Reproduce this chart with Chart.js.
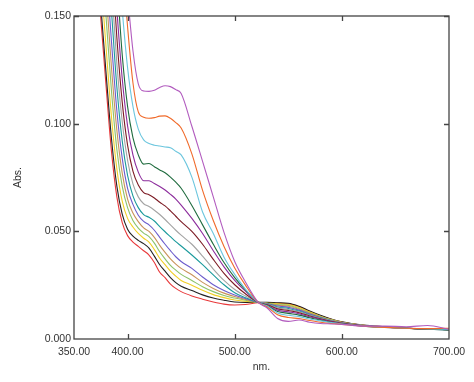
<!DOCTYPE html>
<html><head><meta charset="utf-8">
<script src="https://cdn.jsdelivr.net/npm/chart.js@4.4.1/dist/chart.umd.min.js"></script>
<style>html,body{margin:0;padding:0;background:#fff;}canvas{display:block;}</style>
</head><body>
<canvas id="c" width="474" height="382"></canvas>
<script>
const wavelengths = [370,375,380,385,390,395,400,405,410,415,420,425,430,435,440,445,450,460,470,480,490,500,510,522,530,540,550,560,570,580,590,600,620,640,660,680,700];

const magenta = [0.35,0.32,0.29,0.26,0.225,0.19,0.160,0.134,0.1185,0.1152,0.1150,0.1155,0.1168,0.1176,0.1172,0.1158,0.1140,0.0988,0.0825,0.0660,0.0495,0.0360,0.0265,0.0170,0.0145,0.0095,0.0082,0.0088,0.0078,0.0072,0.0070,0.0068,0.0060,0.0060,0.0057,0.0063,0.0045];
const orange = [0.33,0.30,0.27,0.24,0.207,0.176,0.145,0.119,0.1055,0.1030,0.1025,0.1028,0.1035,0.1036,0.1025,0.1005,0.0980,0.0860,0.0690,0.0550,0.0430,0.0330,0.0250,0.0170,0.0150,0.0113,0.0100,0.0095,0.0086,0.0078,0.0072,0.0068,0.0060,0.0054,0.0050,0.0048,0.0050];
const skyblue = [0.31,0.28,0.25,0.22,0.186,0.153,0.126,0.108,0.0975,0.0925,0.0908,0.0900,0.0896,0.0892,0.0888,0.0872,0.0855,0.0752,0.0590,0.0490,0.0380,0.0300,0.0232,0.0170,0.0154,0.0121,0.0110,0.0104,0.0093,0.0084,0.0076,0.0070,0.0060,0.0054,0.0050,0.0047,0.0045];
const green = [0.296,0.266,0.236,0.205,0.168,0.132,0.108,0.0935,0.0855,0.0812,0.0815,0.0800,0.0785,0.0772,0.0752,0.0728,0.0700,0.0620,0.0530,0.0440,0.0355,0.0285,0.0228,0.0170,0.0156,0.0128,0.0119,0.0111,0.0099,0.0088,0.0078,0.0071,0.0060,0.0055,0.0050,0.0046,0.0043];
const purple = [0.282,0.252,0.222,0.190,0.153,0.121,0.099,0.0855,0.0775,0.0735,0.0735,0.0722,0.0708,0.0692,0.0672,0.0650,0.0622,0.0560,0.0490,0.0410,0.0335,0.0272,0.0222,0.0170,0.0158,0.0134,0.0126,0.0117,0.0103,0.0091,0.0080,0.0072,0.0061,0.0055,0.0050,0.0046,0.0044];
const maroon = [0.270,0.240,0.210,0.178,0.140,0.110,0.090,0.078,0.0715,0.0680,0.0670,0.0655,0.0635,0.0618,0.0595,0.0570,0.0545,0.0500,0.0440,0.0370,0.0305,0.0252,0.0210,0.0170,0.0160,0.0140,0.0132,0.0122,0.0107,0.0094,0.0082,0.0073,0.0061,0.0055,0.0050,0.0046,0.0043];
const gray = [0.258,0.228,0.198,0.165,0.128,0.101,0.083,0.072,0.066,0.0628,0.0615,0.0598,0.0578,0.0555,0.0530,0.0505,0.0482,0.0440,0.0385,0.0325,0.0272,0.0230,0.0200,0.0170,0.0162,0.0145,0.0137,0.0126,0.0110,0.0096,0.0084,0.0074,0.0062,0.0055,0.0050,0.0046,0.0044];
const teal = [0.245,0.215,0.185,0.152,0.117,0.092,0.076,0.0665,0.0610,0.0578,0.0565,0.0548,0.0522,0.0498,0.0475,0.0452,0.0432,0.0390,0.0345,0.0298,0.0252,0.0215,0.0192,0.0170,0.0163,0.0149,0.0142,0.0130,0.0113,0.0098,0.0085,0.0074,0.0062,0.0056,0.0050,0.0045,0.0042];
const violet = [0.232,0.203,0.173,0.138,0.106,0.084,0.070,0.0625,0.0575,0.0546,0.0530,0.0505,0.0472,0.0440,0.0410,0.0382,0.0360,0.0328,0.0288,0.0252,0.0225,0.0204,0.0188,0.0170,0.0164,0.0153,0.0147,0.0134,0.0116,0.0100,0.0086,0.0075,0.0062,0.0055,0.0050,0.0046,0.0043];
const tan = [0.222,0.192,0.161,0.126,0.097,0.077,0.065,0.0585,0.0545,0.0516,0.0500,0.0472,0.0435,0.0402,0.0372,0.0348,0.0328,0.0298,0.0263,0.0235,0.0213,0.0197,0.0184,0.0170,0.0165,0.0157,0.0152,0.0138,0.0119,0.0102,0.0088,0.0076,0.0063,0.0056,0.0050,0.0046,0.0044];
const lightgreen = [0.212,0.181,0.149,0.115,0.088,0.071,0.061,0.055,0.0515,0.0492,0.0475,0.0445,0.0405,0.0372,0.0342,0.0320,0.0300,0.0272,0.0243,0.0220,0.0202,0.0190,0.0180,0.0170,0.0166,0.0160,0.0156,0.0142,0.0122,0.0104,0.0089,0.0077,0.0063,0.0056,0.0050,0.0046,0.0043];
const yellow = [0.200,0.168,0.135,0.103,0.079,0.064,0.056,0.052,0.049,0.0468,0.0450,0.0415,0.0375,0.0345,0.0315,0.0292,0.0272,0.0250,0.0226,0.0206,0.0192,0.0181,0.0175,0.0170,0.0167,0.0163,0.0160,0.0146,0.0125,0.0106,0.0090,0.0078,0.0064,0.0056,0.0050,0.0046,0.0043];
const black = [0.186,0.155,0.123,0.093,0.071,0.058,0.051,0.0478,0.0458,0.0443,0.0422,0.0385,0.0345,0.0315,0.0285,0.0262,0.0245,0.0225,0.0205,0.0190,0.0180,0.0172,0.0170,0.0170,0.0170,0.0168,0.0166,0.0152,0.0130,0.0110,0.0093,0.0080,0.0065,0.0057,0.0050,0.0046,0.0042];
const red = [0.180,0.149,0.117,0.087,0.066,0.054,0.048,0.045,0.043,0.041,0.039,0.0355,0.031,0.0285,0.0255,0.0235,0.022,0.0200,0.0185,0.0172,0.0162,0.0158,0.0160,0.0168,0.0168,0.0166,0.0163,0.0150,0.0128,0.0108,0.0092,0.0079,0.0064,0.0057,0.0051,0.0047,0.0045];

const seriesList = [
  ['magenta', magenta, '#b25cbf'],
  ['orange', orange, '#f06a2a'],
  ['skyblue', skyblue, '#6cc6de'],
  ['green', green, '#1f6b3e'],
  ['purple', purple, '#8c2c9c'],
  ['maroon', maroon, '#7c1b24'],
  ['gray', gray, '#a3a3a3'],
  ['teal', teal, '#1b9a9c'],
  ['violet', violet, '#6c5ccc'],
  ['tan', tan, '#c9935b'],
  ['lightgreen', lightgreen, '#8cc26a'],
  ['yellow', yellow, '#f0cf28'],
  ['black', black, '#222222'],
  ['red', red, '#e8383a']
];

const xTickValues = [350, 400, 500, 600, 700];
const xTickLabels = ['350.00', '400.00', '500.00', '600.00', '700.00'];
const yTickValues = [0, 0.05, 0.10, 0.15];
const yTickLabels = ['0.000', '0.050', '0.100', '0.150'];

Chart.defaults.font.family = '"Liberation Sans", Arial, sans-serif';

const framePlugin = {
  id: 'frame',
  afterDatasetsDraw(chart) {
    const ctx = chart.ctx;
    const {left, right, top, bottom} = chart.chartArea;
    const xs = chart.scales.x, ys = chart.scales.y;
    ctx.save();
    ctx.strokeStyle = '#444';
    ctx.lineWidth = 1.3;
    ctx.strokeRect(left, top, right - left, bottom - top);
    const L = 5;
    ctx.beginPath();
    xTickValues.forEach(v => {
      if (v === 350 || v === 700) return;
      const px = Math.round(xs.getPixelForValue(v)) + 0.5;
      ctx.moveTo(px, bottom); ctx.lineTo(px, bottom - L);
      ctx.moveTo(px, top); ctx.lineTo(px, top + L);
    });
    yTickValues.forEach(v => {
      if (v === 0) return;
      const py = Math.round(ys.getPixelForValue(v)) + 0.5;
      ctx.moveTo(left, py); ctx.lineTo(left + L, py);
      ctx.moveTo(right, py); ctx.lineTo(right - L, py);
    });
    ctx.stroke();
    ctx.restore();
  }
};

new Chart(document.getElementById('c'), {
  type: 'line',
  data: {
    datasets: seriesList.map(([name, vals, col]) => ({
      label: name,
      data: wavelengths.map((w, i) => ({x: w, y: vals[i]})),
      borderColor: col,
      borderWidth: 1.1,
      pointRadius: 0,
      fill: false,
      cubicInterpolationMode: 'monotone'
    }))
  },
  options: {
    responsive: false,
    animation: false,
    devicePixelRatio: 1,
    layout: {padding: {top: 16, right: 25, bottom: 0, left: 0}},
    plugins: {legend: {display: false}, tooltip: {enabled: false}},
    scales: {
      x: {
        type: 'linear', min: 350, max: 700,
        afterBuildTicks: s => { s.ticks = xTickValues.map(v => ({value: v})); },
        afterFit: s => { s.height = 43; },
        grid: {display: false, drawTicks: false},
        border: {display: false},
        ticks: {
          autoSkip: false, maxRotation: 0, padding: 7,
          color: '#333', font: {size: 10.5},
          callback: (v, i) => xTickLabels[i]
        },
        title: {display: true, text: 'nm.', color: '#333', font: {size: 10.5}, padding: {top: 0, bottom: 9}}
      },
      y: {
        min: 0, max: 0.15,
        afterBuildTicks: s => { s.ticks = yTickValues.map(v => ({value: v})); },
        afterFit: s => { s.width = 74; },
        grid: {display: false, drawTicks: false},
        border: {display: false},
        ticks: {
          padding: 3, color: '#333', font: {size: 10.5},
          callback: (v, i) => yTickLabels[i]
        },
        title: {display: true, text: 'Abs.', color: '#333', font: {size: 10.5}, padding: {top: 12, bottom: 0}}
      }
    }
  },
  plugins: [framePlugin]
});
</script>
</body></html>
